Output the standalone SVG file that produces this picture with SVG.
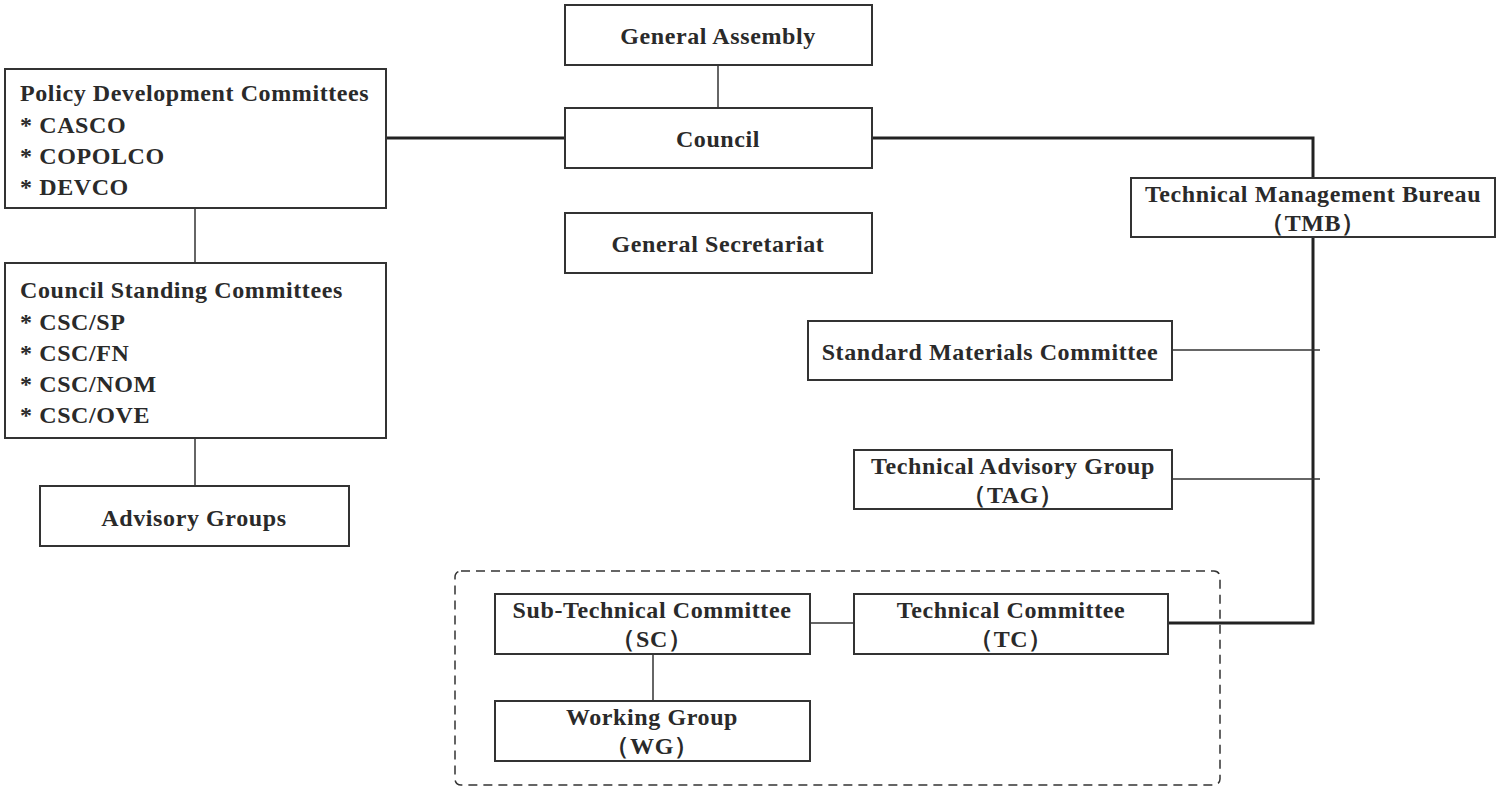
<svg xmlns="http://www.w3.org/2000/svg" width="1500" height="790" viewBox="0 0 1500 790">
<style>
rect.n{fill:#fff;stroke:#333;stroke-width:2}
text{font-family:"Liberation Serif","Times New Roman",serif;font-weight:bold;font-size:24px;letter-spacing:0.6px;fill:#2a2a2a}
.c{text-anchor:middle}
.thin{stroke:#333;stroke-width:1.5;fill:none}
.thick{stroke:#222;stroke-width:3;fill:none}
</style>
<rect width="1500" height="790" fill="#fff"/>
<g id="connectors">
<line class="thin" x1="718" y1="65" x2="718" y2="108"/>
<line class="thick" x1="386" y1="138" x2="565" y2="138"/>
<polyline class="thick" points="872,138 1313,138 1313,178"/>
<polyline class="thick" points="1313,237 1313,623 1168,623"/>
<line class="thin" x1="1172" y1="350" x2="1320" y2="350"/>
<line class="thin" x1="1172" y1="479" x2="1320" y2="479"/>
<line class="thin" x1="195" y1="208" x2="195" y2="263"/>
<line class="thin" x1="195" y1="438" x2="195" y2="486"/>
<line class="thin" x1="810" y1="623" x2="854" y2="623"/>
<line class="thin" x1="653" y1="654" x2="653" y2="701"/>
</g>
<g id="group-dashed"><rect x="455" y="571" width="765" height="214" rx="6" fill="none" stroke="#333" stroke-width="1.5" stroke-dasharray="9,6"/></g>
<g id="ga"><rect class="n" x="565" y="5" width="307" height="60"/><text class="c" x="718" y="44">General Assembly</text></g>
<g id="council"><rect class="n" x="565" y="108" width="307" height="60"/><text class="c" x="718" y="147">Council</text></g>
<g id="gs"><rect class="n" x="565" y="213" width="307" height="60"/><text class="c" x="718" y="252">General Secretariat</text></g>
<g id="pdc"><rect class="n" x="5" y="69" width="381" height="139"/>
<text x="20" y="101">Policy Development Committees</text>
<text x="20" y="133">*  CASCO</text><text x="20" y="164">*  COPOLCO</text><text x="20" y="195">*  DEVCO</text></g>
<g id="csc"><rect class="n" x="5" y="263" width="381" height="175"/>
<text x="20" y="298">Council Standing Committees</text>
<text x="20" y="330">*  CSC/SP</text><text x="20" y="361">*  CSC/FN</text><text x="20" y="392">*  CSC/NOM</text><text x="20" y="423">*  CSC/OVE</text></g>
<g id="ag"><rect class="n" x="40" y="486" width="309" height="60"/><text class="c" x="194" y="526">Advisory Groups</text></g>
<g id="tmb"><rect class="n" x="1131" y="178" width="364" height="59"/><text class="c" x="1313" y="202">Technical Management Bureau</text><text class="c" x="1313" y="231">（TMB）</text></g>
<g id="smc"><rect class="n" x="808" y="321" width="364" height="59"/><text class="c" x="990" y="360">Standard Materials Committee</text></g>
<g id="tag"><rect class="n" x="854" y="450" width="318" height="59"/><text class="c" x="1013" y="474">Technical Advisory Group</text><text class="c" x="1013" y="503">（TAG）</text></g>
<g id="sc"><rect class="n" x="495" y="594" width="315" height="60"/><text class="c" x="652" y="618">Sub-Technical Committee</text><text class="c" x="652" y="647">（SC）</text></g>
<g id="tc"><rect class="n" x="854" y="594" width="314" height="60"/><text class="c" x="1011" y="618">Technical Committee</text><text class="c" x="1011" y="647">（TC）</text></g>
<g id="wg"><rect class="n" x="495" y="701" width="315" height="60"/><text class="c" x="652" y="725">Working Group</text><text class="c" x="652" y="754">（WG）</text></g>
</svg>
